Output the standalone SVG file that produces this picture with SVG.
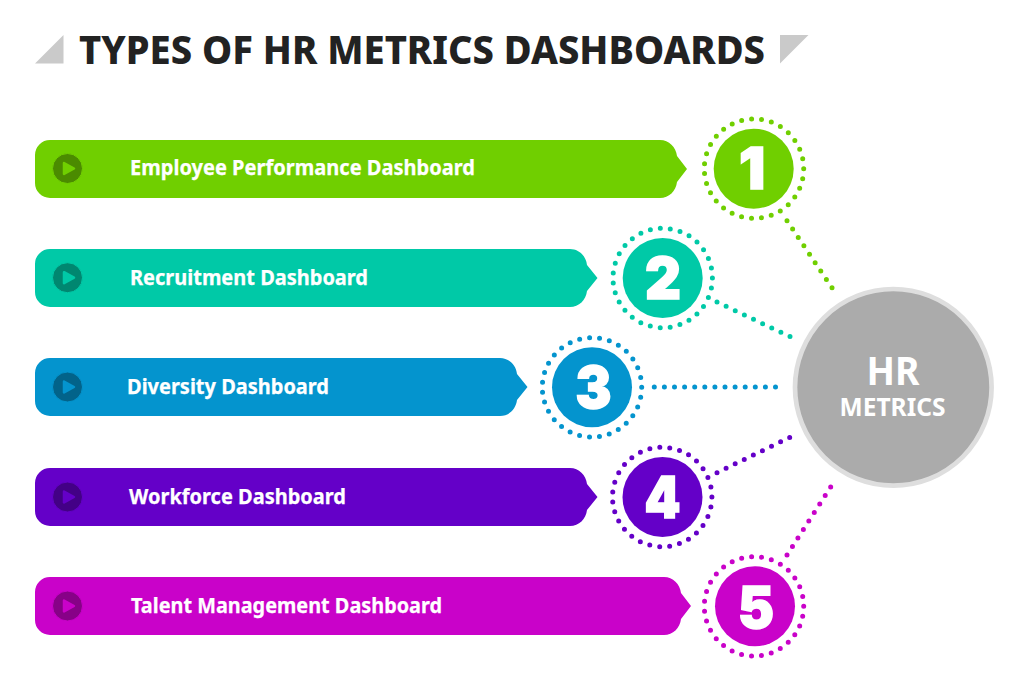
<svg xmlns="http://www.w3.org/2000/svg" width="1024" height="694" viewBox="0 0 1024 694">
<style>
text{font-family:"Noto Sans","Open Sans","Liberation Sans",sans-serif;font-weight:700}
.lbl{font-size:21px;fill:#fff;stroke:#fff;stroke-width:.25}
.num{font-size:58px;fill:#fff;stroke:#fff;stroke-width:1.600;font-family:"Inter","Noto Sans",sans-serif;font-weight:900;text-anchor:middle}
.dot{fill:none;stroke-width:5;stroke-linecap:round;stroke-dasharray:0 10.1}
.ring{fill:none;stroke-width:5;stroke-linecap:round;stroke-dasharray:0 10.06}
.badge{fill:#000;fill-opacity:.33}
</style>
<defs>
<g id="play"><circle r="15" class="badge"/><path d="M-3.500-5.500 6.500 0-3.500 5.500Z" stroke-width="2.500" stroke-linejoin="round" style="stroke:inherit"/></g>
</defs>
<rect width="1024" height="694" fill="#fff"/>
<g id="title">
<path d="M35 63.500 63.500 35V63.500Z" fill="#cacaca"/>
<path d="M780 35H808.500L780 63.500Z" fill="#cacaca"/>
<text x="79" y="63.500" font-size="39.500" fill="#222" style="font-weight:800" textLength="686" lengthAdjust="spacingAndGlyphs">TYPES OF HR METRICS DASHBOARDS</text>
</g>
<g id="connectors">
<path class="dot" stroke="#70cf00" d="M787 220.700 832.500 288.500"/>
<path class="dot" stroke="#00c9a7" d="M717 302 790.800 337"/>
<path class="dot" stroke="#0494ce" d="M654.300 387H776"/>
<path class="dot" stroke="#6400c8" d="M717 472.700 790.500 437"/>
<path class="dot" stroke="#c902c9" d="M787 555 831 486.500"/>
</g>
<g id="node-1">
<path fill="#70cf00" d="M50 140H660C669 140 676 147 677 156L687 169 677 182C676 191 669 198 660 198H50A15 15 0 0 1 35 183V155A15 15 0 0 1 50 140Z"/>
<use href="#play" x="67.500" y="168.500" fill="#70cf00" stroke="#70cf00"/>
<text class="lbl" x="130" y="174.500" textLength="345" lengthAdjust="spacingAndGlyphs">Employee Performance Dashboard</text>
<circle cx="753.700" cy="168.700" r="40" fill="#70cf00"/>
<circle class="ring" stroke="#70cf00" cx="754" cy="168.700" r="49.700"/>
<text class="num" x="752" y="189">1</text>
</g>
<g id="node-2">
<path fill="#00c9a7" d="M50 249H570C579 249 586 256 587 265L597.500 278 587 291C586 300 579 307 570 307H50A15 15 0 0 1 35 292V264A15 15 0 0 1 50 249Z"/>
<use href="#play" x="67.500" y="277.700" fill="#00c9a7" stroke="#00c9a7"/>
<text class="lbl" x="130" y="284.500" textLength="238" lengthAdjust="spacingAndGlyphs">Recruitment Dashboard</text>
<circle cx="662.700" cy="278" r="40" fill="#00c9a7"/>
<circle class="ring" stroke="#00c9a7" cx="662.700" cy="278" r="49.700"/>
<text class="num" x="663" y="298.500" textLength="36" lengthAdjust="spacingAndGlyphs">2</text>
</g>
<g id="node-3">
<path fill="#0494ce" d="M50 358H500C509 358 516 365 517 374L527.500 387 517 400C516 409 509 416 500 416H50A15 15 0 0 1 35 401V373A15 15 0 0 1 50 358Z"/>
<use href="#play" x="67.500" y="387" fill="#0494ce" stroke="#0494ce"/>
<text class="lbl" x="127" y="394" textLength="202" lengthAdjust="spacingAndGlyphs">Diversity Dashboard</text>
<circle cx="592" cy="387.300" r="40" fill="#0494ce"/>
<circle class="ring" stroke="#0494ce" cx="592" cy="387.300" r="49.700"/>
<text class="num" x="593.500" y="408" textLength="36" lengthAdjust="spacingAndGlyphs">3</text>
</g>
<g id="node-4">
<path fill="#6400c8" d="M50 468H570C579 468 586 475 587 484L597.500 497 587 510C586 519 579 526 570 526H50A15 15 0 0 1 35 511V483A15 15 0 0 1 50 468Z"/>
<use href="#play" x="67.500" y="497" fill="#6400c8" stroke="#6400c8"/>
<text class="lbl" x="129" y="503.500" textLength="217" lengthAdjust="spacingAndGlyphs">Workforce Dashboard</text>
<circle cx="662.500" cy="497" r="40" fill="#6400c8"/>
<circle class="ring" stroke="#6400c8" cx="662.200" cy="497" r="49.700"/>
<text class="num" x="662.500" y="518" textLength="36" lengthAdjust="spacingAndGlyphs">4</text>
</g>
<g id="node-5">
<path fill="#c902c9" d="M50 577H664C673 577 680 584 681 593L691 606 681 619C680 628 673 635 664 635H50A15 15 0 0 1 35 620V592A15 15 0 0 1 50 577Z"/>
<use href="#play" x="67.500" y="606" fill="#c902c9" stroke="#c902c9"/>
<text class="lbl" x="131" y="613" textLength="311" lengthAdjust="spacingAndGlyphs">Talent Management Dashboard</text>
<circle cx="755" cy="606.300" r="40" fill="#c902c9"/>
<circle class="ring" stroke="#c902c9" cx="754" cy="606.300" r="49.700"/>
<text class="num" x="756" y="627.500" textLength="36" lengthAdjust="spacingAndGlyphs">5</text>
</g>
<g id="hub">
<circle cx="893.300" cy="387.300" r="98.300" fill="#ababab" stroke="#dedede" stroke-width="4.700"/>
<text x="893" y="385" font-size="40" fill="#fff" text-anchor="middle" textLength="53" lengthAdjust="spacingAndGlyphs">HR</text>
<text x="892.500" y="416" font-size="24.500" fill="#fff" text-anchor="middle" textLength="106" lengthAdjust="spacingAndGlyphs">METRICS</text>
</g>
</svg>
